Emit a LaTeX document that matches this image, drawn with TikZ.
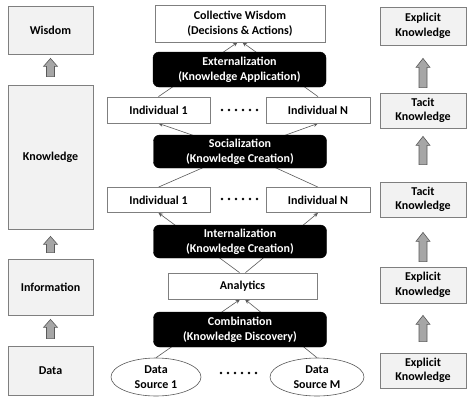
\documentclass[tikz,border=0pt]{standalone}
\usepackage{fontspec}
\setmainfont{Carlito}
\usetikzlibrary{arrows.meta,backgrounds,shapes.geometric,calc}
\definecolor{boxgray}{HTML}{F2F2F2}
\definecolor{edgegray}{HTML}{7F7F7F}
\definecolor{arrgray}{HTML}{A6A6A6}
\definecolor{linegray}{HTML}{595959}
% block arrow from lower node #1 up to upper node #2; #3 gap at bottom, #4 gap at top, #5 head length
\newcommand\blockarrow[5]{%
  \path[barrow] let \p1=(#1.north), \p2=(#2.south) in
    (\x1-4pt,\y1+#3) -- (\x1-4pt,\y2-#4-#5) -- (\x1-7pt,\y2-#4-#5) -- (\x1,\y2-#4)
    -- (\x1+7pt,\y2-#4-#5) -- (\x1+4pt,\y2-#4-#5) -- (\x1+4pt,\y1+#3) -- cycle;}
\begin{document}
\begin{tikzpicture}[x=1pt,y=-1pt,
  every node/.style={font=\fontsize{12}{14.6}\selectfont\bfseries, align=center, inner sep=0pt},
  graybox/.style={draw=edgegray, fill=boxgray, line width=0.8pt},
  whitebox/.style={draw=edgegray, fill=white, line width=0.8pt},
  blackbox/.style={fill=black, draw=black, rounded corners=6pt, text=white, minimum width=173pt, minimum height=35pt},
  ovalbox/.style={ellipse, draw=linegray, fill=white, line width=0.6pt},
  conn/.style={draw=linegray, line width=0.6pt, -{Stealth[length=4.5pt,width=4pt]}},
  plainconn/.style={draw=linegray, line width=0.6pt},
  barrow/.style={draw=linegray, fill=arrgray, line width=0.6pt},
  dotmark/.style={fill=black, circle, minimum size=2.6pt}
]
\useasboundingbox (0,0) rectangle (474,402);

% left column
\node[graybox, minimum width=85pt, minimum height=48pt] (wis) at (50.5,30) {Wisdom};
\node[graybox, minimum width=85pt, minimum height=144pt] (kno) at (50.5,157) {Knowledge};
\node[graybox, minimum width=85pt, minimum height=56pt] (inf) at (50.5,287) {Information};
\node[graybox, minimum width=85pt, minimum height=49pt] (dat) at (50.5,370.5) {Data};

% right column
\node[graybox, minimum width=86pt, minimum height=38pt] (ek1) at (423,26) {Explicit\\Knowledge};
\node[graybox, minimum width=86pt, minimum height=35pt] (tk1) at (423,110.5) {Tacit\\Knowledge};
\node[graybox, minimum width=86pt, minimum height=35pt] (tk2) at (423,199.5) {Tacit\\Knowledge};
\node[graybox, minimum width=86pt, minimum height=36pt] (ek2) at (423,285) {Explicit\\Knowledge};
\node[graybox, minimum width=86pt, minimum height=35pt] (ek3) at (423,370.5) {Explicit\\Knowledge};

% block arrows
\blockarrow{kno}{wis}{8pt}{4pt}{8pt}
\blockarrow{inf}{kno}{6pt}{7pt}{8pt}
\blockarrow{dat}{inf}{7pt}{4pt}{8pt}
\blockarrow{tk1}{ek1}{5pt}{13pt}{9pt}
\blockarrow{tk2}{tk1}{17pt}{8pt}{9pt}
\blockarrow{ek2}{tk2}{5pt}{15pt}{9pt}
\blockarrow{ek3}{ek2}{11pt}{12pt}{9pt}

% center column
\node[whitebox, minimum width=170pt, minimum height=37pt] (cw) at (240,23.5) {Collective Wisdom\\(Decisions \& Actions)};
\node[blackbox] (ext) at (239.5,69.5) {Externalization\\(Knowledge Application)};
\node[whitebox, minimum width=103pt, minimum height=26pt] (i1a) at (158.5,110) {Individual 1};
\node[whitebox, minimum width=104pt, minimum height=26pt] (ina) at (318,110) {Individual N};
\node[blackbox, minimum height=33pt] (soc) at (240,151.5) {Socialization\\(Knowledge Creation)};
\node[whitebox, minimum width=103pt, minimum height=25pt] (i1b) at (158.5,200) {Individual 1};
\node[whitebox, minimum width=104pt, minimum height=25pt] (inb) at (318,200) {Individual N};
\node[blackbox, minimum height=33pt] (int) at (240,241.5) {Internalization\\(Knowledge Creation)};
\node[whitebox, minimum width=149pt, minimum height=26pt] (ana) at (242.5,286) {Analytics};
\node[blackbox] (com) at (240,329.5) {Combination\\(Knowledge Discovery)};
\node[ovalbox, minimum width=90pt, minimum height=38pt] (ds1) at (156,377) {Data\\Source 1};
\node[ovalbox, minimum width=94pt, minimum height=38pt] (dsm) at (317,377) {Data\\Source M};

% dots
\foreach \i in {0,...,5} {
  \node[dotmark] (da\i) at (222+7*\i,110) {};
  \node[dotmark] (db\i) at (222+7*\i,199) {};
  \node[dotmark] (dc\i) at (221+7*\i,373) {};
}

% connectors
\begin{scope}[on background layer]
\draw[conn] (i1a.north) -- ([xshift=-2.5pt]cw.south);
\draw[conn] (ina.north) -- ([xshift=2.5pt]cw.south);
\draw[plainconn] (i1b.north) -- (soc.center);
\draw[plainconn] (inb.north) -- (soc.center);
\draw[conn] (soc.center) -- (i1a.south);
\draw[conn] (soc.center) -- (ina.south);
\draw[conn] ([xshift=-3pt]ana.north) -- (i1b.south);
\draw[conn] ([xshift=3pt]ana.north) -- (inb.south);
\draw[conn] (ds1.north) -- ([xshift=-2.5pt]ana.south);
\draw[conn] (dsm.north) -- ([xshift=2.5pt]ana.south);
\end{scope}
\end{tikzpicture}
\end{document}
